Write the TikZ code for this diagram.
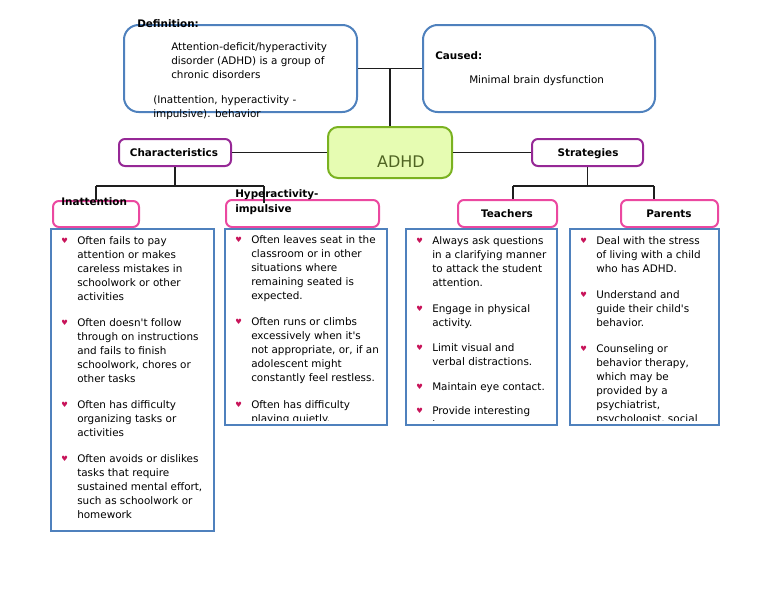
\documentclass[tikz,border=0pt]{standalone}
\usepackage{fontspec}
\setmainfont{DejaVu Sans}
\usetikzlibrary{fit}
\definecolor{bl}{RGB}{79,129,189}
\definecolor{pk}{RGB}{235,72,160}
\definecolor{pu}{RGB}{150,40,150}
\definecolor{gstroke}{RGB}{122,178,32}
\definecolor{gfill}{RGB}{230,252,178}
\definecolor{gtext}{RGB}{79,100,35}
\definecolor{hrt}{RGB}{200,20,90}
\definecolor{ln}{RGB}{30,30,30}
\newcommand\bodyfont{\fontsize{7.8}{10}\selectfont}
\newcommand\ap{\textquotesingle}
\newcommand\para[5]{%
  \node[hrt] (#1h) at (#2,#4-1) {♥};
  \foreach \t [count=\i from 0] in {#5} {\node[txt] (#1-\i) at (#3,#4+14*\i) {\t};}
}
\begin{document}
\begin{tikzpicture}[x=0.75pt,y=-0.75pt,
  txt/.style={anchor=base west,inner sep=0pt,font=\bodyfont},
  btxt/.style={anchor=base west,inner sep=0pt,font=\bodyfont\bfseries},
  ctxt/.style={anchor=base,inner sep=0pt,font=\bodyfont\bfseries},
  hrt/.style={anchor=base west,inner sep=0pt,text=hrt,font=\fontsize{5.5}{6}\selectfont},
  topbox/.style={draw=bl,line width=1.5pt,rounded corners=11pt,inner sep=0pt},
  listbox/.style={draw=bl,line width=1.5pt,inner sep=0pt},
  purbox/.style={draw=pu,line width=1.5pt,rounded corners=4.5pt,inner sep=0pt},
  pinkbox/.style={draw=pk,line width=1.5pt,rounded corners=4.5pt,inner sep=0pt},
  conn/.style={draw=ln,line width=1pt}]
\useasboundingbox (0,0) rectangle (768,594);

% top boxes
\node[topbox,fit={(124,25)(357,112)}] (def) {};
\node[topbox,fit={(423,25)(655,112)}] (cau) {};
\node[btxt] (deft) at (137,27) {Definition:};
\node[txt] (d1) at (171,50) {Attention-deficit/hyperactivity};
\node[txt] (d2) at (171,64) {disorder (ADHD) is a group of};
\node[txt] (d3) at (171,78) {chronic disorders};
\node[txt] (d4) at (153,103) {(Inattention, hyperactivity -};
\node[txt] (d5) at (153,117) {impulsive). behavior};
\node[btxt] (caut) at (435,59) {Caused:};
\node[txt] (c1) at (469,83) {Minimal brain dysfunction};

% ADHD
\node[draw=gstroke,fill=gfill,line width=1.5pt,rounded corners=7.5pt,inner sep=0pt,fit={(328,127)(452,178)}] (adhd) {};
\node[anchor=base,inner sep=0pt,text=gtext,font=\fontsize{12}{14}\selectfont] (adhdt) at (401,167) {ADHD};

\draw[conn] (def.east) -- (cau.west);
\draw[conn] (adhd.north) -- (adhd.north |- def.east);

% level 2
\node[purbox,fit={(119,139)(231,166)}] (char) {};
\node[ctxt] (chart) at (174,156) {Characteristics};
\node[purbox,fit={(532,139)(643,166)}] (strat) {};
\node[ctxt] (stratt) at (588,156) {Strategies};
\draw[conn] (char.east) -- (adhd.west);
\draw[conn] (adhd.east) -- (strat.west);

% level 3 boxes
\node[pinkbox,fit={(53,201)(139,227)}] (inb) {};
\node[pinkbox,fit={(226,200)(379,227)}] (hyb) {};
\node[pinkbox,fit={(458,200)(557,227)}] (teb) {};
\node[pinkbox,fit={(621,200)(718,227)}] (pab) {};

% tree connectors
\coordinate (cl) at (96,186);
\coordinate (cr) at (264,186);
\coordinate (sl) at (513,186);
\coordinate (sr) at (654,186);
\draw[conn] (char.south) -- (char.south |- cl);
\draw[conn] (cl) -- (cr);
\draw[conn] (cl) -- (cl |- inb.north);
\draw[conn] (cr) -- ++(0,17);
\draw[conn] (strat.south) -- (strat.south |- sl);
\draw[conn] (sl) -- (sr);
\draw[conn] (sl) -- (sl |- teb.north);
\draw[conn] (sr) -- (sr |- pab.north);

\node[btxt] (inbt) at (61,205) {Inattention};
\node[btxt] (hybt1) at (235,197) {Hyperactivity-};
\node[btxt] (hybt2) at (235,212) {impulsive};
\node[ctxt] (tebt) at (507,217) {Teachers};
\node[ctxt] (pabt) at (669,217) {Parents};

% list boxes
\begin{scope}
\clip (51,229) rectangle (214,531);
\para{ia}{61}{77}{244}{Often fails to pay, attention or makes, careless mistakes in, schoolwork or other, activities}
\para{ib}{61}{77}{326}{Often doesn\ap t follow, through on instructions, and fails to finish, {schoolwork, chores or}, other tasks}
\para{ic}{61}{77}{408}{Often has difficulty, organizing tasks or, activities}
\para{id}{61}{77}{462}{Often avoids or dislikes, tasks that require, {sustained mental effort,}, such as schoolwork or, homework}
\end{scope}
\node[listbox,fit={(51,229)(214,531)}] (inl) {};

\begin{scope}
\clip (225,229) rectangle (387,420.5);
\para{ha}{235}{251}{243}{Often leaves seat in the, classroom or in other, situations where, remaining seated is, expected.}
\para{hb}{235}{251}{325}{Often runs or climbs, excessively when it\ap s, {not appropriate, or, if an}, adolescent might, constantly feel restless.}
\para{hc}{235}{251}{408}{Often has difficulty, playing quietly.}
\end{scope}
\node[listbox,fit={(225,229)(387,425)}] (hyl) {};

\begin{scope}
\clip (406,229) rectangle (557,420.5);
\para{ta}{416}{432}{244}{Always ask questions, in a clarifying manner, to attack the student, attention.}
\para{tb}{416}{432}{312}{Engage in physical, activity.}
\para{tc}{416}{432}{351}{Limit visual and, verbal distractions.}
\para{td}{416}{432}{390}{Maintain eye contact.}
\para{te}{416}{432}{414}{Provide interesting, lessons.}
\end{scope}
\node[listbox,fit={(406,229)(557,425)}] (tel) {};

\begin{scope}
\clip (570,229) rectangle (719,420.5);
\para{pa}{580}{596}{244}{Deal with the stress, of living with a child, who has ADHD.}
\para{pb}{580}{596}{298}{Understand and, guide their child\ap s, behavior.}
\para{pc}{580}{596}{352}{Counseling or, {behavior therapy,}, which may be, provided by a, {psychiatrist,}, {psychologist, social}}
\end{scope}
\node[listbox,fit={(570,229)(719,425)}] (pal) {};
\end{tikzpicture}
\end{document}
